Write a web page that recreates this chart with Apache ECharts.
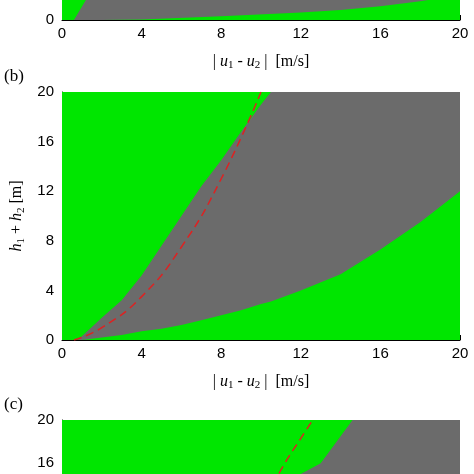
<!DOCTYPE html>
<html><head><meta charset="utf-8">
<script src="https://cdn.jsdelivr.net/npm/echarts@6/dist/echarts.min.js"></script>
<style>html,body{margin:0;background:#fff}#c{width:474px;height:474px}</style>
</head><body><div id="c"></div>
<script>
// panel (a): only the bottom strip is visible
var aX = [0.6, 1.2, 2, 4, 8, 12, 14, 16, 18, 20];
var aLower = [0, 0, 0, 0.05, 0.3, 0.6, 0.8, 1.1, 1.5, 2];
var aUpper = [0, 1.6, 2, 2, 2, 2, 2, 2, 2, 2];
// panel (b)
var bX = [0.8, 1, 2, 3, 4, 5, 6, 7, 8, 9, 10, 10.5, 12, 14, 16, 18, 20];
var bLower = [0, 0, 0.2, 0.4, 0.7, 0.9, 1.2, 1.6, 2, 2.4, 2.9, 3.1, 4, 5.3, 7.3, 9.5, 12];
var bUpper = [0, 0.3, 1.8, 3.2, 5.2, 7.6, 10, 12.4, 14.5, 16.8, 19, 20, 20, 20, 20, 20, 20];
var bRedX = [0.6, 2, 4, 6, 8, 10];
var bRedY = [0, 1, 3.5, 7.5, 13, 20];
// panel (c): only the top strip is visible
var cX = [11, 12, 13, 14, 14.6, 16, 18, 20];
var cUpper = [0, 15, 16, 18.5, 20, 20, 20, 20];
var cRedX = [10.6, 11.2, 12, 12.6];
var cRedY = [14, 16, 18.3, 20];

var GREEN = '#00e600', GRAY = '#6b6b6b';
var chart = echarts.init(document.getElementById('c'));
var grids = [
  {left: 62, right: 14, top: 0, height: 20},
  {left: 62, right: 14, top: 92, height: 248},
  {left: 62, right: 14, top: 420, height: 54}
];
var yRange = [[0, 1.6, [0]], [0, 20, [0, 4, 8, 12, 16, 20]], [15, 20, [16, 20]]];
function pairs(xs, ys) { return xs.map(function (x, i) { return [x, ys[i]]; }); }
var serif = 'Liberation Serif';
var rich = {i: {fontFamily: serif, fontSize: 16, color: '#000'},
  it: {fontFamily: serif, fontStyle: 'italic', fontSize: 16, color: '#000'},
  s: {fontFamily: serif, fontSize: 11, color: '#000', padding: [8, 0, 0, 0]}};
var xAxes = [], yAxes = [], series = [];
var uppers = [aUpper, bUpper, cUpper], xs = [aX, bX, cX], lowers = [aLower, bLower, null];
for (var k = 0; k < 3; k++) {
  xAxes.push({gridIndex: k, type: 'value', min: 0, max: 20, interval: 4,
    name: k < 2 ? '{i|| }{it|u}{s|1}{i| - }{it|u}{s|2}{i| |  [m/s]}' : '',
    nameLocation: 'middle', nameGap: 32, nameTextStyle: {rich: rich},
    axisLine: {lineStyle: {color: '#000'}}, axisTick: {show: k < 2, inside: true, length: 5, lineStyle: {color: '#000'}},
    axisLabel: {show: k < 2, fontFamily: 'Liberation Sans', fontSize: 15, color: '#000', margin: 6}, splitLine: {show: false}});
  yAxes.push({gridIndex: k, type: 'value', min: yRange[k][0], max: yRange[k][1],
    name: k === 1 ? '{it|h}{s|1}{i| + }{it|h}{s|2}{i| [m]}' : '',
    nameLocation: 'middle', nameGap: 34, nameRotate: 90, nameTextStyle: {rich: rich},
    axisLine: {lineStyle: {color: '#000'}},
    axisTick: {inside: true, length: 5, lineStyle: {color: '#000'}, customValues: yRange[k][2]},
    axisLabel: {fontFamily: 'Liberation Sans', fontSize: 15, color: '#000', margin: 8, customValues: yRange[k][2]},
    splitLine: {show: false}});
  series.push({type: 'line', xAxisIndex: k, yAxisIndex: k, data: [[0, 20], [20, 20]], symbol: 'none',
    lineStyle: {width: 0}, areaStyle: {color: GREEN, opacity: 1}, silent: true, z: 1});
  series.push({type: 'line', xAxisIndex: k, yAxisIndex: k, data: pairs(xs[k], uppers[k]),
    symbol: 'none', lineStyle: {width: 0}, areaStyle: {color: GRAY, opacity: 1}, z: 2});
  if (lowers[k]) {
    series.push({type: 'line', xAxisIndex: k, yAxisIndex: k, data: pairs(xs[k], lowers[k]),
      symbol: 'none', lineStyle: {width: 0}, areaStyle: {color: GREEN, opacity: 1}, z: 3});
  }
}
series.push({type: 'line', xAxisIndex: 1, yAxisIndex: 1, data: pairs(bRedX, bRedY), smooth: true,
  symbol: 'none', lineStyle: {color: '#d22', type: [8, 5], width: 1.5}, z: 5});
series.push({type: 'line', xAxisIndex: 2, yAxisIndex: 2, data: pairs(cRedX, cRedY), smooth: true,
  symbol: 'none', lineStyle: {color: '#d22', type: [8, 5], width: 1.5}, z: 5});

chart.setOption({
  animation: false,
  grid: grids, xAxis: xAxes, yAxis: yAxes, series: series,
  graphic: [
    {type: 'text', left: 4, top: 68, style: {text: '(b)', font: '17px "Liberation Serif"', fill: '#000'}},
    {type: 'text', left: 4, top: 396, style: {text: '(c)', font: '17px "Liberation Serif"', fill: '#000'}}
  ]
});
</script></body></html>
